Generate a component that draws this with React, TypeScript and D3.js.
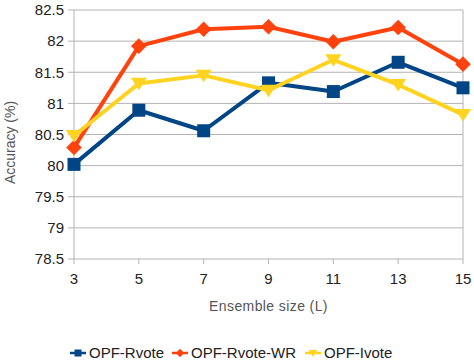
import React from 'react';
import * as d3 from 'd3';

const ensembleSizes = [3, 5, 7, 9, 11, 13, 15];
const rvote = [80.02, 80.89, 80.56, 81.33, 81.19, 81.66, 81.25];
const rvoteWR = [80.29, 81.92, 82.19, 82.23, 81.99, 82.22, 81.63];
const ivote = [80.48, 81.32, 81.45, 81.21, 81.7, 81.3, 80.82];
const yTicks = [78.5, 79, 79.5, 80, 80.5, 81, 81.5, 82, 82.5];

const series = [
  { name: 'OPF-Rvote', values: rvote, color: '#004586', marker: 'square' },
  { name: 'OPF-Rvote-WR', values: rvoteWR, color: '#ff420e', marker: 'diamond' },
  { name: 'OPF-Ivote', values: ivote, color: '#ffd320', marker: 'triangle' },
];

const W = 474;
const H = 364;
const margin = { top: 10, right: 11, bottom: 105, left: 74 };

const markerPath = (type: string, size: number) => {
  if (type === 'square') return d3.symbol(d3.symbolSquare, size * size)();
  if (type === 'diamond') {
    const s = size * 0.6;
    return `M0,${-s}L${s},0L0,${s}L${-s},0Z`;
  }
  const s = size * 0.62;
  return `M${-s},${-s * 0.7}L${s},${-s * 0.7}L0,${s * 0.85}Z`;
};

export default function App() {
  const x = d3.scaleLinear().domain([3, 15]).range([margin.left, W - margin.right]);
  const y = d3.scaleLinear().domain([78.5, 82.5]).range([H - margin.bottom, margin.top]);
  const line = d3.line<number>().x((_, i) => x(ensembleSizes[i])).y(d => y(d));
  const font = '"Liberation Sans", Arial, sans-serif';
  const legendX = [70, 172, 305];

  return (
    <svg width={W} height={H} style={{ position: 'absolute', left: 0, top: 0, background: '#fff' }} fontFamily={font}>
      {yTicks.map(t => (
        <g key={t}>
          <line x1={x(3) - 6} x2={x(15)} y1={y(t)} y2={y(t)} stroke="#b3b3b3" strokeWidth={1} />
          <text x={x(3) - 10} y={y(t)} dy="0.35em" textAnchor="end" fontSize={15} fill="#222">{t}</text>
        </g>
      ))}
      <line x1={x(3)} x2={x(3)} y1={y(82.5)} y2={y(78.5)} stroke="#b3b3b3" />
      <line x1={x(15)} x2={x(15)} y1={y(82.5)} y2={y(78.5)} stroke="#b3b3b3" />
      {ensembleSizes.map(s => (
        <g key={s}>
          <line x1={x(s)} x2={x(s)} y1={y(78.5)} y2={y(78.5) + 5} stroke="#b3b3b3" />
          <text x={x(s)} y={y(78.5) + 20} dy="0.35em" textAnchor="middle" fontSize={15} fill="#222">{s}</text>
        </g>
      ))}
      <text x={(x(3) + x(15)) / 2} y={311} textAnchor="middle" fontSize={14} fill="#555" letterSpacing={0.4}>Ensemble size (L)</text>
      <text transform={`translate(15,${(y(78.5) + y(82.5)) / 2 + 8}) rotate(-90)`} textAnchor="middle" fontSize={14} fill="#555">Accuracy (%)</text>
      {series.map(s => (
        <g key={s.name}>
          <path d={line(s.values) || ''} fill="none" stroke={s.color} strokeWidth={4} strokeLinejoin="round" />
          {s.values.map((v, i) => (
            <path key={i} d={markerPath(s.marker, 13) || ''} transform={`translate(${x(ensembleSizes[i])},${y(v)})`} fill={s.color} />
          ))}
        </g>
      ))}
      {series.map((s, i) => (
        <g key={s.name} transform={`translate(${legendX[i]},353)`}>
          <line x1={0} x2={16} y1={0} y2={0} stroke={s.color} strokeWidth={2.5} />
          <path d={markerPath(s.marker, 7) || ''} transform="translate(8,0)" fill={s.color} />
          <text x={19} y={0} dy="0.35em" fontSize={15} fill="#222">{s.name}</text>
        </g>
      ))}
    </svg>
  );
}
